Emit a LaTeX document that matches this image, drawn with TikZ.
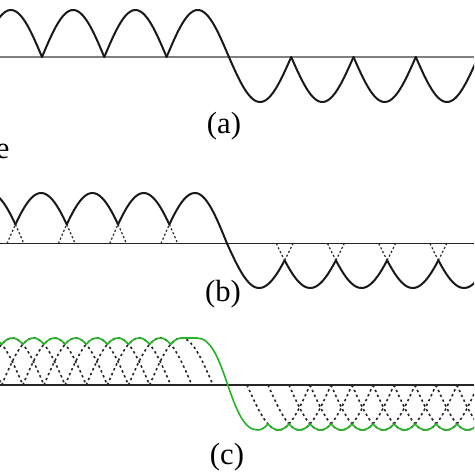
\documentclass[tikz,border=0pt]{standalone}
\usepackage{fontspec}
\setmainfont{Liberation Serif}
\begin{document}
\begin{tikzpicture}[x=0.75pt,y=-0.75pt,
  wave/.style={line width=1.5pt,black!90,line cap=round},
  basea/.style={line width=1.3pt,black!50},
  baseb/.style={line width=1.2pt,black!85},
  dots/.style={line width=0.9pt,black!85,dash pattern=on 1.6pt off 1.6pt},
  dsh/.style={line width=1.2pt,black!85,dash pattern=on 1.8pt off 2.2pt},
  env/.style={line width=1.2pt,green!65!black!85!white,line cap=round},
  lbl/.style={font=\fontsize{23}{28}\selectfont,inner sep=0pt}]
\useasboundingbox (0,0) rectangle (474,474);
\clip (0,0) rectangle (474,474);
% ---------- panel (a)
\draw[basea] (0,57) -- (474,57);
\foreach \a [evaluate=\a as \b using \a+62.3] in {-20.3,42,104.3,166.6}
  \draw[wave,domain=\a:\b,samples=40] plot (\x,{57-47*sin(180*(\x-\a)/62.3)});
\foreach \a [evaluate=\a as \b using \a+62.3] in {228.9,291.2,353.5,415.8}
  \draw[wave,domain=\a:\b,samples=40] plot (\x,{57+45*sin(180*(\x-\a)/62.3)});
\node[lbl,anchor=base] (la) at (224,133) {(a)};
\node[lbl,anchor=base west] (le) at (-4.5,158) {e};
% ---------- panel (b)
\draw[baseb] (0,243.5) -- (474,243.5);
\foreach \p [evaluate=\p as \l using \p-25.65, evaluate=\p as \r using \p+25.65] in {-10.2,41.1,92.4,143.7}
  \draw[wave,domain=\l:\r,samples=30] plot (\x,{243.5-50.5*cos(180*(\x-\p)/68)});
\draw[wave,domain=169.35:195,samples=20] plot (\x,{243.5-50.5*cos(180*(\x-195)/68)});
\draw[wave,domain=195:227,samples=25] plot (\x,{243.5-50.5*cos(180*(\x-195)/64)});
\draw[wave,domain=227:259,samples=25] plot (\x,{243.5-44.5*cos(180*(\x-195)/64)});
\draw[wave,domain=259:284.6,samples=20] plot (\x,{243.5+44.5*cos(180*(\x-259)/68)});
\foreach \q [evaluate=\q as \l using \q-25.6, evaluate=\q as \r using \q+25.6] in {310.25,361.5,412.75,464}
  \draw[wave,domain=\l:\r,samples=30] plot (\x,{243.5+44.5*cos(180*(\x-\q)/68)});
% dotted ends (b)
\foreach \p [evaluate=\p as \l using \p+25.65, evaluate=\p as \r using \p+34] in {-10.2,41.1,92.4,143.7}
  \draw[dots,domain=\l:\r,samples=8] plot (\x,{243.5-50.5*cos(180*(\x-\p)/68)});
\foreach \p [evaluate=\p as \l using \p-34, evaluate=\p as \r using \p-25.65] in {41.1,92.4,143.7,195}
  \draw[dots,domain=\l:\r,samples=8] plot (\x,{243.5-50.5*cos(180*(\x-\p)/68)});
\foreach \q [evaluate=\q as \l using \q+25.6, evaluate=\q as \r using \q+34] in {259,310.25,361.5,412.75,464}
  \draw[dots,domain=\l:\r,samples=8] plot (\x,{243.5+44.5*cos(180*(\x-\q)/68)});
\foreach \q [evaluate=\q as \l using \q-34, evaluate=\q as \r using \q-25.6] in {310.25,361.5,412.75,464}
  \draw[dots,domain=\l:\r,samples=8] plot (\x,{243.5+44.5*cos(180*(\x-\q)/68)});
\node[lbl,anchor=base] (lb) at (223,301) {(b)};
% ---------- panel (c)
\draw[baseb] (0,385) -- (474,385);
\foreach \g [evaluate=\g as \b using \g+63.39] in {-61.69,-40.56,-19.43,1.7,22.83,43.96,65.09,86.22,107.35,128.48,149.61}
  \draw[dsh,domain=\g:\b,samples=40] plot (\x,{385-47*sin(180*(\x-\g)/63.39)});
\foreach \h [evaluate=\h as \b using \h+63] in {247,268,289,310,331,352,373,394,415,436,457}
  \draw[dsh,domain=\h:\b,samples=40] plot (\x,{385+45*sin(180*(\x-\h)/63)});
% green envelope
\foreach \c [evaluate=\c as \l using \c-10.565, evaluate=\c as \r using \c+10.565] in {-29.995,-8.865,12.265,33.395,54.525,75.655,96.785,117.915,139.045,160.175}
  \draw[env,domain=\l:\r,samples=12] plot (\x,{385-47*cos(180*(\x-\c)/63.39)});
\draw[env,domain=170.74:181.3,samples=8] plot (\x,{385-47*cos(180*(\x-181.3)/63.39)});
\coordinate (t0) at (181.3,338);
\coordinate (t1) at (197,338);
\coordinate (t2) at (257.5,430);
\draw[env] (t0) -- (t1) .. controls (226,338) and (229,430) .. (t2);
\draw[env,domain=257.5:268,samples=8] plot (\x,{385+45*cos(180*(\x-257.5)/63)});
\foreach \d [evaluate=\d as \l using \d-10.5, evaluate=\d as \r using \d+10.5] in {278.5,299.5,320.5,341.5,362.5,383.5,404.5,425.5,446.5,467.5}
  \draw[env,domain=\l:\r,samples=12] plot (\x,{385+45*cos(180*(\x-\d)/63)});
\node[lbl,anchor=base] (lc) at (227,464) {(c)};
\end{tikzpicture}
\end{document}
